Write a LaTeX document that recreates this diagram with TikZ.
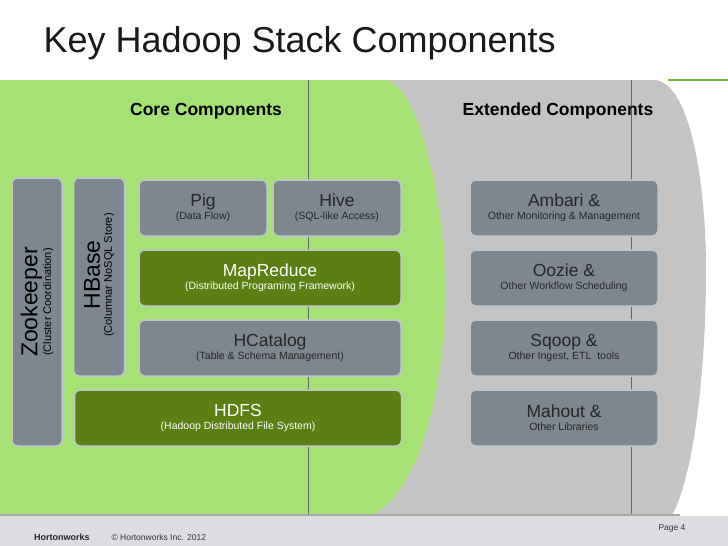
\documentclass[tikz,border=0pt]{standalone}
\usepackage{fontspec}
\setmainfont{Liberation Sans}
\begin{document}
\begin{tikzpicture}[x=1pt,y=-1pt,
  gbox/.style={rounded corners=6pt,fill=boxgray,draw=boxedge,line width=1.5pt,text=black!85,align=center,inner sep=0pt},
  dbox/.style={gbox,fill=boxgreen,text=white}]
\definecolor{boxgray}{HTML}{7E878F}
\definecolor{boxedge}{HTML}{BFC6C9}
\definecolor{boxgreen}{HTML}{5B7F12}
\definecolor{lgreen}{HTML}{A5E174}
\definecolor{lgray}{HTML}{C4C4C4}
\definecolor{footgray}{HTML}{DCDDE0}
\definecolor{topgreen}{HTML}{6CBF3C}
\newcommand\bx[2]{{\fontsize{17.5}{19}\selectfont #1}\\[1pt]{\fontsize{10.5}{12}\selectfont #2}}
\useasboundingbox (0,0) rectangle (728,546);
\fill[white] (0,0) rectangle (728,546);
\node[anchor=west,font=\fontsize{36}{40}\selectfont,text=black!90] (title) at (40,43) {Key Hadoop Stack Components};
% backgrounds
\fill[lgray] (300,80) -- (655,80) .. controls (692,84) and (706,190) .. (706,270) .. controls (706,380) and (692,480) .. (672,515) -- (300,515) -- cycle;
\fill[lgreen] (0,80) -- (385,80) .. controls (418,84) and (445,200) .. (445,290) .. controls (445,400) and (415,495) .. (372,515) -- (0,515) -- cycle;
\draw[line width=2pt,topgreen] (668,80) -- (728,80);
\draw[gray!80!black,line width=0.6pt] (308,80) -- (308,515);
\draw[gray!80!black,line width=0.6pt] (631,80) -- (631,515);
\fill[lgray!85!black] (0,514) rectangle (680,516);
\fill[footgray] (0,516) rectangle (728,546);
% headings
\node[font=\bfseries\fontsize{17.5}{20}\selectfont] (core) at (206,111) {Core Components};
\node[font=\bfseries\fontsize{17.5}{20}\selectfont] (ext) at (558,111) {Extended Components};
% left columns
\node[gbox,minimum width=50pt,minimum height=268pt] (zoo) at (37,312) {};
\node[rotate=90,align=center] (zoot) at ([yshift=10pt]zoo.center) {{\fontsize{23}{24}\selectfont Zookeeper}\\[0pt]{\fontsize{11}{12}\selectfont (Cluster Coordination)}};
\node[gbox,minimum width=51pt,minimum height=198pt] (hbase) at (99,277) {};
\node[rotate=90,align=center] (hbaset) at ([yshift=2pt]hbase.center) {{\fontsize{23}{24}\selectfont HBase}\\[0pt]{\fontsize{11}{12}\selectfont (Columnar NoSQL Store)}};
% core boxes
\node[gbox,minimum width=128pt,minimum height=56pt] (pig) at (203,208) {\bx{Pig}{(Data Flow)}};
\node[gbox,minimum width=128pt,minimum height=56pt] (hive) at (337,208) {\bx{Hive}{(SQL-like Access)}};
\node[dbox,minimum width=262pt,minimum height=56pt] (mr) at (270,278) {\bx{MapReduce}{(Distributed Programing Framework)}};
\node[gbox,minimum width=262pt,minimum height=56pt] (hcat) at (270,348) {\bx{HCatalog}{(Table \& Schema Management)}};
\node[dbox,minimum width=327pt,minimum height=56pt] (hdfs) at (238,418) {\bx{HDFS}{(Hadoop Distributed File System)}};
% extended
\node[gbox,minimum width=188pt,minimum height=56pt] (amb) at (564,208) {\bx{Ambari \&}{Other Monitoring \& Management}};
\node[gbox,minimum width=188pt,minimum height=56pt] (ooz) at (564,278) {\bx{Oozie \&}{Other Workflow Scheduling}};
\node[gbox,minimum width=188pt,minimum height=56pt] (sq) at (564,348) {\bx{Sqoop \&}{Other Ingest, ETL\ \ tools}};
\node[gbox,minimum width=188pt,minimum height=56pt] (mah) at (564,418) {\bx{Mahout \&}{Other Libraries}};
% footer
\node[font=\bfseries\fontsize{9}{10}\selectfont,text=black!85] (hw) at (62,537) {Hortonworks};
\node[anchor=west,font=\fontsize{8.5}{9}\selectfont,text=black!80] (copy) at (108,537) {© Hortonworks Inc. 2012};
\node[anchor=west,font=\fontsize{8.5}{9}\selectfont,text=black!80] (page) at (655,528) {Page 4};
\end{tikzpicture}
\end{document}
